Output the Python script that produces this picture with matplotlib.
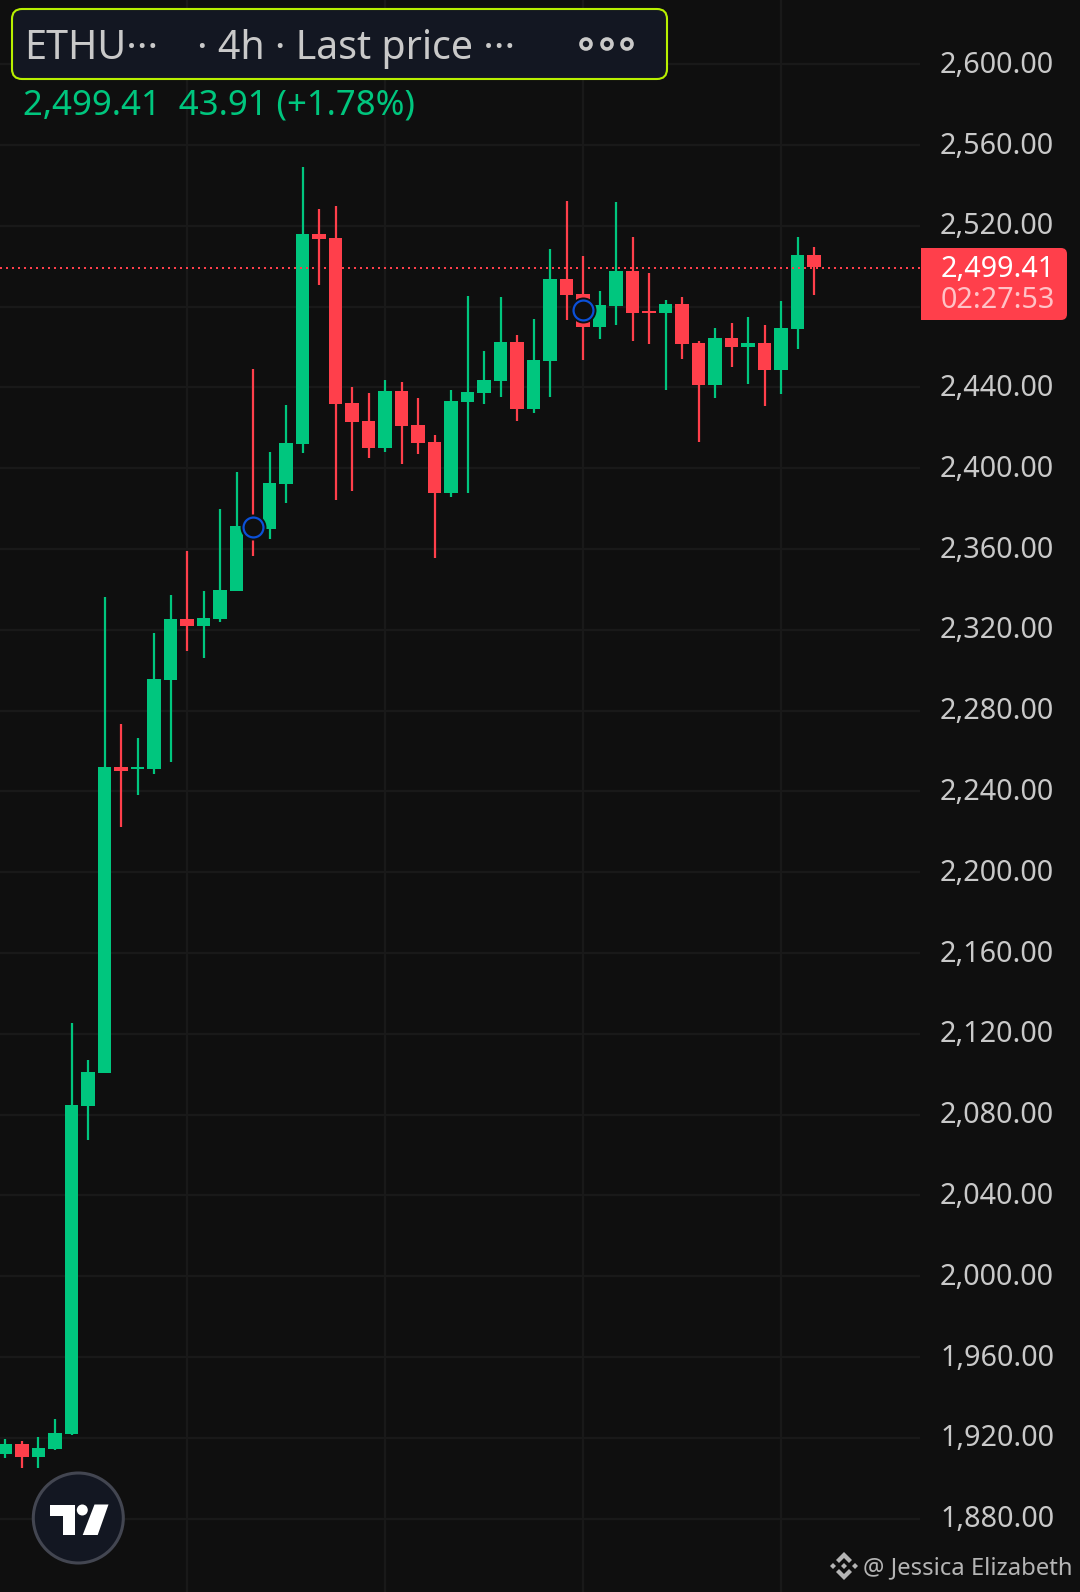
"""4h candlestick chart of ETHUSD in a dark trading-app style."""

import matplotlib.pyplot as plt
from matplotlib.patches import Circle, FancyBboxPatch, Polygon, Rectangle
from matplotlib.transforms import ScaledTranslation


# ---------------------------------------------------------------------
# Data
# ---------------------------------------------------------------------
opens = [
    1912.2, 1916.9, 1910.7, 1914.5, 1922.0, 2084.3, 2100.6, 2252.1, 2251.1, 2251.1,
    2295.2, 2325.4, 2321.9, 2325.4, 2339.2, 2373.4, 2369.9, 2392.2, 2412.0, 2516.0,
    2514.0, 2432.3, 2423.4, 2410.0, 2438.2, 2421.4, 2413.0, 2387.7, 2432.8, 2437.2,
    2443.2, 2462.5, 2429.3, 2453.1, 2493.7, 2486.3, 2469.9, 2480.3, 2497.6, 2477.8,
    2476.8, 2481.3, 2462.0, 2441.2, 2464.5, 2460.0, 2462.0, 2448.6, 2468.9, 2505.6,
]
highs = [
    1919.4, 1918.4, 1920.4, 1929.3, 2125.4, 2107.0, 2336.3, 2273.4, 2266.5, 2318.4,
    2337.2, 2359.0, 2339.2, 2379.8, 2398.1, 2449.1, 2408.0, 2431.3, 2549.1, 2528.3,
    2529.8, 2440.2, 2437.2, 2443.7, 2442.7, 2434.8, 2416.5, 2438.7, 2485.3, 2458.0,
    2484.8, 2466.0, 2473.9, 2508.5, 2532.3, 2505.1, 2487.7, 2531.8, 2514.5, 2496.7,
    2483.3, 2484.8, 2463.0, 2469.4, 2471.9, 2474.9, 2470.9, 2482.8, 2514.5, 2509.5,
]
lows = [
    1910.2, 1905.2, 1905.2, 1914.0, 1921.5, 2067.4, 2100.6, 2222.4, 2238.2, 2248.6,
    2254.6, 2309.5, 2306.1, 2323.9, 2339.2, 2356.6, 2365.0, 2382.8, 2407.5, 2490.7,
    2384.3, 2388.7, 2405.1, 2408.0, 2402.1, 2407.0, 2355.6, 2385.8, 2387.7, 2431.8,
    2435.3, 2423.4, 2427.3, 2435.3, 2473.4, 2453.6, 2464.0, 2470.9, 2463.0, 2461.5,
    2438.7, 2454.1, 2413.0, 2434.8, 2450.1, 2441.7, 2430.8, 2436.7, 2459.0, 2485.8,
]
closes = [
    1916.9, 1910.7, 1915.0, 1922.4, 2084.8, 2101.1, 2252.1, 2250.1, 2252.1, 2295.7,
    2325.4, 2321.9, 2325.9, 2339.7, 2371.4, 2368.9, 2392.7, 2412.5, 2516.0, 2513.5,
    2431.8, 2422.9, 2410.0, 2438.2, 2420.9, 2412.5, 2387.7, 2433.3, 2437.7, 2443.7,
    2462.5, 2429.3, 2453.6, 2493.7, 2485.8, 2469.9, 2480.8, 2497.6, 2476.8, 2476.8,
    2481.3, 2461.5, 2441.2, 2464.5, 2460.0, 2462.0, 2448.6, 2469.4, 2505.6, 2499.41,
]

price_ticks = [
    1880, 1920, 1960, 2000, 2040, 2080, 2120, 2160, 2200, 2240, 2280,
    2320, 2360, 2400, 2440, 2480, 2520, 2560, 2600,
]
# 2,480 sits behind the last price tag, so it has no label
price_tick_labels = [
    "1,880.00", "1,920.00", "1,960.00", "2,000.00", "2,040.00", "2,080.00", "2,120.00",
    "2,160.00", "2,200.00", "2,240.00", "2,280.00", "2,320.00", "2,360.00", "2,400.00",
    "2,440.00", "", "2,520.00", "2,560.00", "2,600.00",
]
time_gridlines = [11, 23, 35, 47]

event_bars = [15, 35]
event_prices = [2370.9, 2478.3]

last_price = 2499.41


# ---------------------------------------------------------------------
# Style
# ---------------------------------------------------------------------
BG = "#0F0F0F"
GRID = "#191919"
GREEN = "#00C67E"
RED = "#FF3F4B"
LABEL = "#C9C9C9"
PANEL = "#131722"

plt.rcParams.update(
    {
        "font.family": ["Noto Sans", "DejaVu Sans"],
        "font.size": 20,
    }
)

fig = plt.figure(figsize=(10.8, 15.92), dpi=100, facecolor=BG)


# ---------------------------------------------------------------------
# Candles
# ---------------------------------------------------------------------
ax = fig.add_axes([0, 0, 920 / 1080, 1], facecolor=BG)

x_positions = list(range(len(opens)))
colors = [GREEN if c >= o else RED for o, c in zip(opens, closes)]

ax.vlines(x_positions, lows, highs, colors=colors, linewidth=1.6, zorder=2)
ax.bar(
    x_positions,
    [max(abs(c - o), 1.0) for o, c in zip(opens, closes)],
    bottom=[min(o, c) for o, c in zip(opens, closes)],
    width=0.8,
    color=colors,
    linewidth=0,
    zorder=3,
)

ax.axhline(
    last_price - 0.4,
    color=RED,
    linewidth=1.44,
    linestyle=(0, (1, 2)),
    zorder=4,
)

# event markers: dark halo first, then the blue ring
ax.scatter(event_bars, event_prices, s=350, color=BG, linewidth=0, zorder=5)
ax.scatter(
    event_bars,
    event_prices,
    s=205,
    facecolor=BG,
    edgecolor="#0B50D8",
    linewidth=1.6,
    zorder=6,
)

ax.set_xlim(-0.333, 55.42)
ax.set_ylim(1843.7, 2631.8)

ax.set_yticks(price_ticks, price_tick_labels)
ax.set_xticks(time_gridlines)
ax.yaxis.tick_right()
ax.tick_params(axis="y", length=0, pad=14.4, labelcolor=LABEL, labelsize=20.7)
ax.tick_params(axis="x", length=0, labelbottom=False)
# labels sit a little above their gridlines
lift = ScaledTranslation(0, 2.5 / 100, fig.dpi_scale_trans)
for label in ax.get_yticklabels():
    label.set_transform(label.get_transform() + lift)
ax.set_axisbelow(True)
ax.grid(color=GRID, linewidth=1.6)
for spine in ax.spines.values():
    spine.set_visible(False)


# ---------------------------------------------------------------------
# Overlay, in pixel coordinates
# ---------------------------------------------------------------------
over = fig.add_axes([0, 0, 1, 1])
over.set_xlim(0, 1080)
over.set_ylim(1592, 0)
over.axis("off")

# header box
over.add_patch(
    FancyBboxPatch(
        (12, 9), 655, 70,
        boxstyle="round,pad=0,rounding_size=10",
        facecolor=PANEL,
        edgecolor="#B8F000",
        linewidth=1.5,
    )
)
over.text(24, 44, "ETHU···", color=LABEL, fontsize=28.5, va="center_baseline")
over.text(197, 44, "· 4h · Last price ···", color=LABEL, fontsize=28.3, va="center_baseline")
for cx in (586, 607, 627):
    over.add_patch(Circle((cx, 44), 5, facecolor="none", edgecolor=LABEL, linewidth=2.6))

over.text(
    23, 101, "2,499.41  43.91 (+1.78%)",
    color=GREEN, fontsize=25, va="center_baseline",
)

# last price tag
over.add_patch(
    FancyBboxPatch(
        (921, 248), 146, 72,
        boxstyle="round,pad=0,rounding_size=6",
        facecolor=RED,
        linewidth=0,
    )
)
over.add_patch(Rectangle((921, 248), 20, 72, facecolor=RED, linewidth=0))
over.text(941, 266, "2,499.41", color="white", fontsize=20.7, va="center_baseline")
over.text(941, 297, "02:27:53", color="#FFC2C6", fontsize=20.7, va="center_baseline")

# round logo
over.add_patch(Circle((78.3, 1518), 45, facecolor=PANEL, edgecolor="#434651", linewidth=2.2))
over.add_patch(
    Polygon(
        [(50, 1504.5), (74.5, 1504.5), (74.5, 1535), (63, 1535), (63, 1515.5), (50, 1515.5)],
        facecolor="white",
        linewidth=0,
    )
)
over.add_patch(Circle((82.3, 1510), 5.5, facecolor="white", linewidth=0))
over.add_patch(
    Polygon(
        [(94.5, 1504.5), (108.5, 1504.5), (97.7, 1535), (82.7, 1535)],
        facecolor="white",
        linewidth=0,
    )
)

# watermark
MARK = "#B5B5B5"
cx, cy = 844, 1566
for poly in (
    [(cx, cy - 14), (cx + 8, cy - 6), (cx + 5, cy - 3), (cx, cy - 8), (cx - 5, cy - 3), (cx - 8, cy - 6)],
    [(cx, cy + 14), (cx + 8, cy + 6), (cx + 5, cy + 3), (cx, cy + 8), (cx - 5, cy + 3), (cx - 8, cy + 6)],
    [(cx, cy - 3), (cx + 3, cy), (cx, cy + 3), (cx - 3, cy)],
    [(cx - 14, cy), (cx - 11, cy - 3), (cx - 8, cy), (cx - 11, cy + 3)],
    [(cx + 14, cy), (cx + 11, cy - 3), (cx + 8, cy), (cx + 11, cy + 3)],
):
    over.add_patch(Polygon(poly, facecolor=MARK, linewidth=0))
over.text(863, 1565, "@ Jessica Elizabeth", color=MARK, fontsize=17.2, va="center_baseline")

fig.savefig("out.png", dpi=100, facecolor=BG)
plt.close(fig)
